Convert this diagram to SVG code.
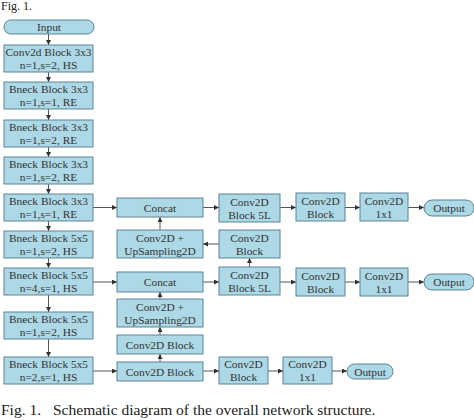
<svg xmlns="http://www.w3.org/2000/svg" width="474" height="420" viewBox="0 0 474 420">
<style>
.b{fill:#add8e6;stroke:#5b8497;stroke-width:1}
.t{font-family:"Liberation Serif","Times New Roman",serif;font-size:11.4px;fill:#333;text-anchor:middle}
.c{font-family:"Liberation Serif","Times New Roman",serif;fill:#222}
.l{stroke:#555;stroke-width:1;fill:none;marker-end:url(#a)}
</style>
<defs>
<marker id="a" viewBox="0 0 6 6" refX="6" refY="3" markerWidth="5" markerHeight="5" orient="auto" markerUnits="userSpaceOnUse">
<path d="M0,0 L6,3 L0,6 z" fill="#333"/>
</marker>
</defs>
<rect width="474" height="420" fill="#fff"/>
<text class="c" x="1" y="10" font-size="12">Fig. 1.</text>

<g id="connectors">
<line class="l" x1="48.5" y1="34" x2="48.5" y2="45"/>
<line class="l" x1="48.5" y1="72" x2="48.5" y2="82"/>
<line class="l" x1="48.5" y1="109" x2="48.5" y2="120"/>
<line class="l" x1="48.5" y1="147" x2="48.5" y2="157"/>
<line class="l" x1="48.5" y1="184" x2="48.5" y2="194"/>
<line class="l" x1="48.5" y1="221" x2="48.5" y2="231"/>
<line class="l" x1="48.5" y1="258" x2="48.5" y2="268"/>
<line class="l" x1="48.5" y1="295" x2="48.5" y2="312"/>
<line class="l" x1="48.5" y1="339" x2="48.5" y2="357"/>

<line class="l" x1="93" y1="207.5" x2="117" y2="207.5"/>
<line class="l" x1="203" y1="207.5" x2="219" y2="207.5"/>
<line class="l" x1="280" y1="207.5" x2="296" y2="207.5"/>
<line class="l" x1="345" y1="207.5" x2="360" y2="207.5"/>
<line class="l" x1="408" y1="207.5" x2="424" y2="207.5"/>

<line class="l" x1="249.5" y1="267" x2="249.5" y2="258"/>
<line class="l" x1="219" y1="244" x2="203" y2="244"/>
<line class="l" x1="160" y1="230" x2="160" y2="217"/>

<line class="l" x1="93" y1="282" x2="117" y2="282"/>
<line class="l" x1="203" y1="282" x2="219" y2="282"/>
<line class="l" x1="280" y1="282" x2="296" y2="282"/>
<line class="l" x1="345" y1="282" x2="360" y2="282"/>
<line class="l" x1="408" y1="282" x2="424" y2="282"/>

<line class="l" x1="160" y1="299" x2="160" y2="292"/>
<line class="l" x1="160" y1="335" x2="160" y2="327"/>
<line class="l" x1="160" y1="362" x2="160" y2="354"/>

<line class="l" x1="93" y1="371" x2="117" y2="371"/>
<line class="l" x1="203" y1="371" x2="219" y2="371"/>
<line class="l" x1="268" y1="371" x2="283" y2="371"/>
<line class="l" x1="332" y1="371" x2="347" y2="371"/>
</g>

<g id="input"><rect class="b" x="4" y="20" width="90" height="14" rx="7"/><text class="t" x="49" y="31">Input</text></g>
<g id="conv0"><rect class="b" x="4" y="45" width="89" height="27"/><text class="t" x="48.5" y="56">Conv2d Block 3x3</text><text class="t" x="48.5" y="69">n=1,s=2, HS</text></g>
<g id="bneck1"><rect class="b" x="4" y="82" width="89" height="27"/><text class="t" x="48.5" y="93">Bneck Block 3x3</text><text class="t" x="48.5" y="106">n=1,s=1, RE</text></g>
<g id="bneck2"><rect class="b" x="4" y="120" width="89" height="27"/><text class="t" x="48.5" y="131">Bneck Block 3x3</text><text class="t" x="48.5" y="144">n=1,s=2, RE</text></g>
<g id="bneck3"><rect class="b" x="4" y="157" width="89" height="27"/><text class="t" x="48.5" y="168">Bneck Block 3x3</text><text class="t" x="48.5" y="181">n=1,s=2, RE</text></g>
<g id="bneck4"><rect class="b" x="4" y="194" width="89" height="27"/><text class="t" x="48.5" y="205">Bneck Block 3x3</text><text class="t" x="48.5" y="218">n=1,s=1, RE</text></g>
<g id="bneck5"><rect class="b" x="4" y="231" width="89" height="27"/><text class="t" x="48.5" y="242">Bneck Block 5x5</text><text class="t" x="48.5" y="255">n=1,s=2, HS</text></g>
<g id="bneck6"><rect class="b" x="4" y="268" width="89" height="27"/><text class="t" x="48.5" y="279">Bneck Block 5x5</text><text class="t" x="48.5" y="292">n=4,s=1, HS</text></g>
<g id="bneck7"><rect class="b" x="4" y="312" width="89" height="27"/><text class="t" x="48.5" y="323">Bneck Block 5x5</text><text class="t" x="48.5" y="336">n=1,s=2, HS</text></g>
<g id="bneck8"><rect class="b" x="4" y="357" width="89" height="27"/><text class="t" x="48.5" y="368">Bneck Block 5x5</text><text class="t" x="48.5" y="381">n=2,s=1, HS</text></g>

<g id="concat1"><rect class="b" x="117" y="198" width="86" height="19"/><text class="t" x="160" y="211.5">Concat</text></g>
<g id="up1"><rect class="b" x="117" y="230" width="86" height="28"/><text class="t" x="160" y="241.5">Conv2D +</text><text class="t" x="160" y="254.5">UpSampling2D</text></g>
<g id="concat2"><rect class="b" x="117" y="272" width="86" height="20"/><text class="t" x="160" y="286">Concat</text></g>
<g id="up2"><rect class="b" x="117" y="299" width="86" height="28"/><text class="t" x="160" y="310.5">Conv2D +</text><text class="t" x="160" y="323.5">UpSampling2D</text></g>
<g id="cbA"><rect class="b" x="117" y="335" width="86" height="19"/><text class="t" x="160" y="348.5">Conv2D Block</text></g>
<g id="cbB"><rect class="b" x="117" y="362" width="86" height="19"/><text class="t" x="160" y="375.5">Conv2D Block</text></g>

<g id="b5l1"><rect class="b" x="219" y="194" width="61" height="28"/><text class="t" x="249.5" y="205.5">Conv2D</text><text class="t" x="249.5" y="218.5">Block 5L</text></g>
<g id="blkm"><rect class="b" x="219" y="230" width="61" height="28"/><text class="t" x="249.5" y="241.5">Conv2D</text><text class="t" x="249.5" y="254.5">Block</text></g>
<g id="b5l2"><rect class="b" x="219" y="267" width="61" height="28"/><text class="t" x="249.5" y="278.5">Conv2D</text><text class="t" x="249.5" y="291.5">Block 5L</text></g>

<g id="r1blk"><rect class="b" x="296" y="193" width="49" height="28"/><text class="t" x="320.5" y="204.5">Conv2D</text><text class="t" x="320.5" y="217.5">Block</text></g>
<g id="r1c11"><rect class="b" x="360" y="193" width="48" height="28"/><text class="t" x="384" y="204.5">Conv2D</text><text class="t" x="384" y="217.5">1x1</text></g>
<g id="out1"><rect class="b" x="424" y="200" width="50" height="16" rx="8"/><text class="t" x="449" y="212">Output</text></g>

<g id="r2blk"><rect class="b" x="296" y="268" width="49" height="28"/><text class="t" x="320.5" y="279.5">Conv2D</text><text class="t" x="320.5" y="292.5">Block</text></g>
<g id="r2c11"><rect class="b" x="360" y="268" width="48" height="28"/><text class="t" x="384" y="279.5">Conv2D</text><text class="t" x="384" y="292.5">1x1</text></g>
<g id="out2"><rect class="b" x="424" y="274" width="50" height="16" rx="8"/><text class="t" x="449" y="286">Output</text></g>

<g id="r3blk"><rect class="b" x="219" y="357" width="49" height="27"/><text class="t" x="243.5" y="368">Conv2D</text><text class="t" x="243.5" y="381">Block</text></g>
<g id="r3c11"><rect class="b" x="283" y="357" width="49" height="27"/><text class="t" x="307.5" y="368">Conv2D</text><text class="t" x="307.5" y="381">1x1</text></g>
<g id="out3"><rect class="b" x="347" y="364" width="46" height="15" rx="7.5"/><text class="t" x="370" y="375.5">Output</text></g>

<text class="c" x="1" y="415" font-size="15.5">Fig. 1.</text>
<text class="c" x="53" y="415" font-size="15.5">Schematic diagram of the overall network structure.</text>
</svg>
